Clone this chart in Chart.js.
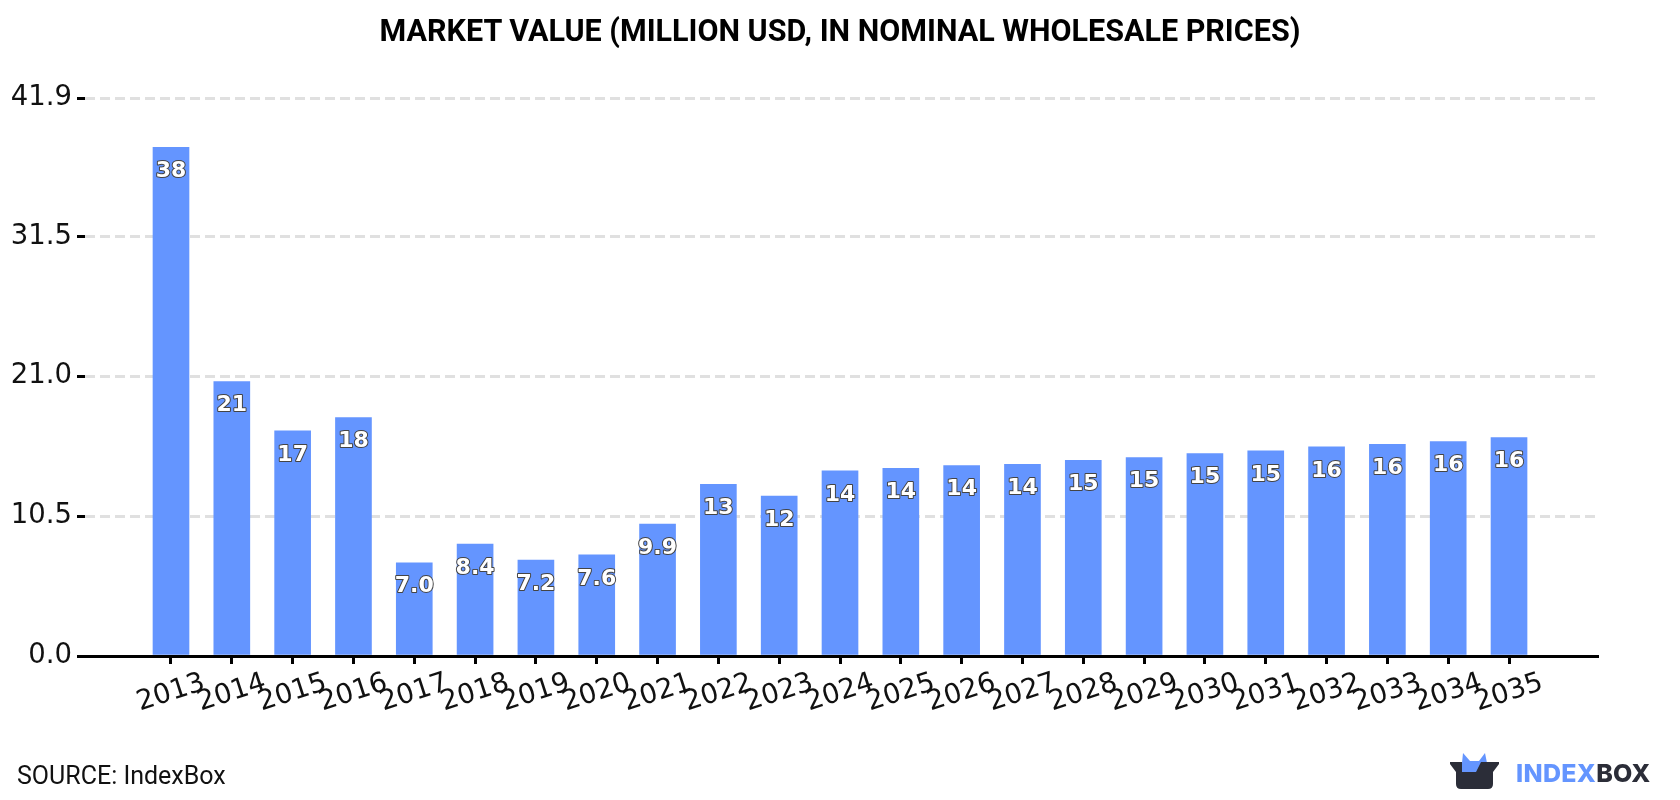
<!DOCTYPE html>
<html>
<head>
<meta charset="utf-8">
<script src="https://cdn.jsdelivr.net/npm/chart.js@4"></script>
<style>
  html, body { margin: 0; padding: 0; background: #fff; }
  #wrap { position: relative; width: 1680px; height: 800px; overflow: hidden; }
  #title { position: absolute; left: 0; top: 12px; width: 1680px; text-align: center; font: 700 30.5px/38px Roboto, sans-serif; color: #000; }
  #source { position: absolute; left: 17px; top: 761px; font: 400 25px Roboto, sans-serif; color: #111; }
  #logo { position: absolute; left: 1450px; top: 752px; }
  #brand { position: absolute; left: 1516px; top: 758px; font: 800 25px/30px Inter, sans-serif; letter-spacing: 0.3px; color: #2b2d38; }
  #brand span { color: #6495ff; }
</style>
</head>
<body>
<div id="wrap">
  <canvas id="marketChart" width="1680" height="800"></canvas>
  <div id="title">MARKET VALUE (MILLION USD, IN NOMINAL WHOLESALE PRICES)</div>
  <div id="source">SOURCE: IndexBox</div>
  <svg id="logo" width="50" height="38" viewBox="0 0 50 38">
    <path d="M12 11 L13 1 L20 9 L29 9 L35 1 L37 11 L37 20 L12 20 Z" fill="#6495ff"/>
    <path d="M0 10 L12 10 L12 20 L26 20 L31 10 L49 10 L49 12 L43 20 L43 32 Q43 37 38 37 L11 37 Q6 37 6 32 L6 20 L0 12 Z" fill="#2b2d38"/>
  </svg>
  <div id="brand"><span>INDEX</span>BOX</div>
</div>
<script>
const years = ["2013", "2014", "2015", "2016", "2017", "2018", "2019", "2020", "2021", "2022", "2023", "2024",
  "2025", "2026", "2027", "2028", "2029", "2030", "2031", "2032", "2033", "2034", "2035"];
const marketValues = [38.2, 20.6, 16.9, 17.9, 7.0, 8.4, 7.2, 7.6, 9.9, 12.9, 12.0, 13.9,
  14.1, 14.3, 14.4, 14.7, 14.9, 15.2, 15.4, 15.7, 15.9, 16.1, 16.4];
const yTicks = [0, 10.5, 21, 31.5, 41.9];

// year labels are centred under their tick, which the built-in rotation doesn't do
const yearLabels = {
  id: "yearLabels",
  afterDraw(chart) {
    const ctx = chart.ctx;
    const xScale = chart.scales.x;
    ctx.save();
    ctx.font = "27.5px 'DejaVu Sans'";
    ctx.fillStyle = "#111";
    ctx.textAlign = "center";
    ctx.textBaseline = "middle";
    years.forEach((year, i) => {
      ctx.save();
      ctx.translate(xScale.getPixelForValue(i), 693);
      ctx.rotate(-18 * Math.PI / 180);
      ctx.fillText(year, 0, 0);
      ctx.restore();
    });
    ctx.restore();
  },
};

// value printed inside the top of each bar
const barValues = {
  id: "barValues",
  afterDatasetsDraw(chart) {
    const ctx = chart.ctx;
    const bars = chart.getDatasetMeta(0).data;
    ctx.save();
    ctx.font = "bold 22px 'DejaVu Sans'";
    ctx.textAlign = "center";
    ctx.textBaseline = "middle";
    ctx.lineJoin = "round";
    bars.forEach((bar, i) => {
      const text = marketValues[i].toPrecision(2);
      ctx.strokeStyle = "#444";
      ctx.lineWidth = 2;
      ctx.strokeText(text, bar.x, bar.y + 24);
      ctx.fillStyle = "#fff";
      ctx.fillText(text, bar.x, bar.y + 24);
    });
    ctx.restore();
  },
};

const ctx = document.getElementById("marketChart").getContext("2d");

new Chart(ctx, {
  type: "bar",
  data: {
    datasets: [
      {
        data: marketValues.map((value, i) => ({ x: i, y: value })),
        backgroundColor: "#6495ff",
        barThickness: 36,
      },
    ],
  },
  plugins: [yearLabels, barValues],
  options: {
    responsive: false,
    animation: false,
    layout: { padding: { top: 98, right: 82 } },
    plugins: {
      legend: { display: false },
      tooltip: { enabled: false },
    },
    scales: {
      x: {
        type: "linear",
        offset: false,
        min: -1.414,
        max: 23.463,
        afterBuildTicks(scale) {
          scale.ticks = years.map((_, i) => ({ value: i }));
        },
        afterFit(scale) {
          scale.height = 144;
        },
        ticks: { display: false, autoSkip: false },
        grid: { offset: false, drawOnChartArea: false, tickColor: "#000", tickWidth: 3, tickLength: 8 },
        border: { color: "#000", width: 3 },
      },
      y: {
        min: 0,
        max: 41.9,
        afterBuildTicks(scale) {
          scale.ticks = yTicks.map((value) => ({ value }));
        },
        afterFit(scale) {
          scale.width = 85;
        },
        ticks: {
          autoSkip: false,
          color: "#111",
          padding: 5,
          font: { family: "DejaVu Sans", size: 27.5 },
          callback: (value) => value.toFixed(1),
        },
        grid: {
          color: "#e0e0e0",
          lineWidth: 3,
          tickColor: "#000",
          tickWidth: 3,
          tickLength: 8,
          tickBorderDash: [],
        },
        border: { display: false, dash: [10, 5] },
      },
    },
  },
});
</script>
</body>
</html>
